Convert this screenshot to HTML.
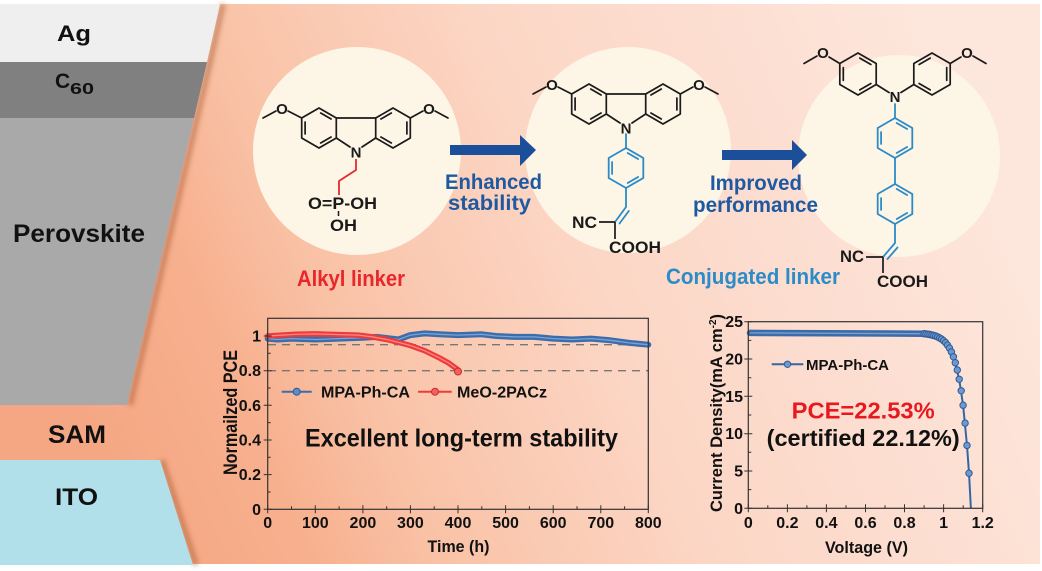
<!DOCTYPE html>
<html><head><meta charset="utf-8"><style>
html,body{margin:0;padding:0;background:#fff;}
svg{display:block;}
text{font-family:"Liberation Sans",Arial,sans-serif;font-weight:bold;}
</style></head><body>
<svg width="1042" height="571" viewBox="0 0 1042 571" xmlns="http://www.w3.org/2000/svg">
<defs>
<linearGradient id="bg" gradientUnits="userSpaceOnUse" x1="150" y1="560" x2="1000" y2="200">
<stop offset="0" stop-color="#f5a783"/>
<stop offset="0.16" stop-color="#f7b08e"/>
<stop offset="0.29" stop-color="#f9c2a6"/>
<stop offset="0.56" stop-color="#fcd6c5"/>
<stop offset="1" stop-color="#fde6dc"/>
</linearGradient>
<filter id="sh" x="-20%" y="-20%" width="140%" height="140%"><feGaussianBlur stdDeviation="2.5"/></filter>
</defs>
<rect width="1042" height="571" fill="#fff"/>
<rect x="0" y="4" width="1040" height="560" fill="url(#bg)"/>

<!-- layer stack -->
<path d="M223,4 L210,62 L197,118 L130,405" stroke="#a0522d" stroke-opacity="0.45" stroke-width="6" fill="none" filter="url(#sh)"/>
<path d="M162,460 L196,565" stroke="#a0522d" stroke-opacity="0.45" stroke-width="6" fill="none" filter="url(#sh)"/>
<polygon points="0,4 220,4 207,62 0,62" fill="#efefef"/>
<polygon points="0,62 207,62 194,118 0,118" fill="#808080"/>
<polygon points="0,118 194,118 127,405 0,405" fill="#aaa9a9"/>
<polygon points="0,460 160,460 193,565 0,565" fill="#b1e0eb"/>
<g fill="#111">
<text x="57" y="41" font-size="22" textLength="34" lengthAdjust="spacingAndGlyphs">Ag</text>
<text x="55" y="88" font-size="21">C</text>
<text x="70" y="94" font-size="16" textLength="24" lengthAdjust="spacingAndGlyphs">60</text>
<text x="13" y="242" font-size="25" textLength="132" lengthAdjust="spacingAndGlyphs">Perovskite</text>
<text x="48" y="443" font-size="25" textLength="58" lengthAdjust="spacingAndGlyphs">SAM</text>
<text x="55" y="505" font-size="24" textLength="43" lengthAdjust="spacingAndGlyphs">ITO</text>
</g>

<!-- circles -->
<circle cx="357" cy="151" r="104" fill="#fdf5e6"/>
<circle cx="628" cy="150" r="103" fill="#fdf5e6"/>
<circle cx="899" cy="156" r="101" fill="#fdf5e6"/>

<!-- arrows -->
<g fill="#1c4f9a">
<rect x="450" y="145" width="72" height="10"/>
<polygon points="520,135 536,150 520,166"/>
<rect x="722" y="150" width="72" height="10"/>
<polygon points="792,140 807,155 792,170"/>
</g>
<g fill="#1f5aa0">
<text x="445" y="189" font-size="21" textLength="97" lengthAdjust="spacingAndGlyphs">Enhanced</text>
<text x="448" y="210" font-size="21" textLength="83" lengthAdjust="spacingAndGlyphs">stability</text>
<text x="710" y="190" font-size="21" textLength="92" lengthAdjust="spacingAndGlyphs">Improved</text>
<text x="693" y="212" font-size="21" textLength="125" lengthAdjust="spacingAndGlyphs">performance</text>
</g>
<text x="297" y="286" font-size="22" fill="#e8262b" textLength="108" lengthAdjust="spacingAndGlyphs">Alkyl linker</text>
<text x="666" y="284" font-size="22" fill="#2c8cc8" textLength="174" lengthAdjust="spacingAndGlyphs">Conjugated linker</text>

<!-- molecule 1 carbazole -->
<g fill="none" stroke="#1a1a1a" stroke-width="1.7" stroke-linejoin="round" stroke-linecap="round">
<path d="M319,108 L336.3,118 L336.3,138 L319,148 L301.7,138 L301.7,118 Z"/>
<path d="M393,108 L410.3,118 L410.3,138 L393,148 L375.7,138 L375.7,118 Z"/>
<path d="M320.7,113 L331.1,119 M331.1,137 L320.7,143 M305.1,134 L305.1,122"/>
<path d="M380.9,119 L391.3,113 M391.3,143 L380.9,137 M406.9,122 L406.9,134"/>
<path d="M336.3,118 L375.7,118 M336.3,138 L350,147 M362,147 L375.7,138"/>
<path d="M301.7,118 L288,111 M276,111 L263,118"/>
<path d="M410.3,118 L423,111 M435,111 L448,118"/>
</g>
<g fill="#1a1a1a" font-size="15" text-anchor="middle">
<text x="356" y="157.5">N</text>
<text x="282" y="114">O</text>
<text x="429" y="114">O</text>
</g>
<path d="M356,159 L356,170 L339,181 L339,195" fill="none" stroke="#e42b2b" stroke-width="1.8" stroke-linejoin="round"/>
<text x="308" y="209" font-size="17" fill="#1a1a1a" textLength="69" lengthAdjust="spacingAndGlyphs">O=P-OH</text>
<line x1="338.5" y1="211" x2="338.5" y2="216" stroke="#1a1a1a" stroke-width="1.5"/>
<text x="330" y="231" font-size="17" fill="#1a1a1a" textLength="27" lengthAdjust="spacingAndGlyphs">OH</text>

<!-- molecule 2 -->
<g transform="translate(270,-24)">
<g fill="none" stroke="#1a1a1a" stroke-width="1.7" stroke-linejoin="round" stroke-linecap="round">
<path d="M319,108 L336.3,118 L336.3,138 L319,148 L301.7,138 L301.7,118 Z"/>
<path d="M393,108 L410.3,118 L410.3,138 L393,148 L375.7,138 L375.7,118 Z"/>
<path d="M320.7,113 L331.1,119 M331.1,137 L320.7,143 M305.1,134 L305.1,122"/>
<path d="M380.9,119 L391.3,113 M391.3,143 L380.9,137 M406.9,122 L406.9,134"/>
<path d="M336.3,118 L375.7,118 M336.3,138 L350,147 M362,147 L375.7,138"/>
<path d="M301.7,118 L288,111 M276,111 L263,118"/>
<path d="M410.3,118 L423,111 M435,111 L448,118"/>
</g>
<g fill="#1a1a1a" font-size="15" text-anchor="middle">
<text x="356" y="157.5">N</text>
<text x="282" y="114">O</text>
<text x="429" y="114">O</text>
</g>
</g>
<g fill="none" stroke="#2a8bc8" stroke-width="1.8" stroke-linejoin="round" stroke-linecap="round">
<path d="M626,134 L626,148"/>
<path d="M626,148 L643.3,158 L643.3,178 L626,188 L608.7,178 L608.7,158 Z"/>
<path d="M612.1,174 L612.1,162 M627.7,153 L638.1,159 M638.1,177 L627.7,183"/>
<path d="M626,188 L626,207 L615,222 M628.8,211 L619.5,223.5"/>
</g>
<path d="M615,222 L599,222 M615,222 L615,239" fill="none" stroke="#1a1a1a" stroke-width="1.7"/>
<text x="572" y="228" font-size="17" fill="#1a1a1a" textLength="25" lengthAdjust="spacingAndGlyphs">NC</text>
<text x="609" y="253" font-size="17" fill="#1a1a1a" textLength="52" lengthAdjust="spacingAndGlyphs">COOH</text>

<!-- molecule 3 -->
<g fill="none" stroke="#1a1a1a" stroke-width="1.7" stroke-linejoin="round" stroke-linecap="round">
<path d="M858,53 L876.2,63.5 L876.2,84.5 L858,95 L839.8,84.5 L839.8,63.5 Z"/>
<path d="M859.8,58.1 L870.9,64.5 M870.9,83.5 L859.8,89.9 M843.3,80.4 L843.3,67.6"/>
<path d="M932,53 L950.2,63.5 L950.2,84.5 L932,95 L913.8,84.5 L913.8,63.5 Z"/>
<path d="M919.1,64.5 L930.2,58.1 M930.2,89.9 L919.1,83.5 M946.7,67.6 L946.7,80.4"/>
<path d="M876.2,84.5 L889,92.5 M913.8,84.5 L901,92.5"/>
<path d="M839.8,63.5 L829,57 M817,56 L804,63.5"/>
<path d="M950.2,63.5 L961,57 M973,56 L986,63.5"/>
</g>
<g fill="#1a1a1a" font-size="15" text-anchor="middle">
<text x="895" y="102">N</text>
<text x="823" y="58">O</text>
<text x="967" y="58">O</text>
</g>
<g fill="none" stroke="#2a8bc8" stroke-width="1.8" stroke-linejoin="round" stroke-linecap="round">
<path d="M895,104 L895,118"/>
<path d="M895,118 L912.3,128 L912.3,148 L895,158 L877.7,148 L877.7,128 Z"/>
<path d="M881.1,144 L881.1,132 M896.7,123 L907.1,129 M907.1,147 L896.7,153"/>
<path d="M895,158 L895,184"/>
<path d="M895,184 L912.3,194 L912.3,214 L895,224 L877.7,214 L877.7,194 Z"/>
<path d="M881.1,210 L881.1,198 M896.7,189 L907.1,195 M907.1,213 L896.7,219"/>
<path d="M895,224 L895,243 L883,257 M897.5,247.5 L887.5,259"/>
</g>
<path d="M883,257 L866,257 M883,257 L883,273" fill="none" stroke="#1a1a1a" stroke-width="1.7"/>
<text x="840" y="262" font-size="17" fill="#1a1a1a" textLength="24" lengthAdjust="spacingAndGlyphs">NC</text>
<text x="877" y="287" font-size="17" fill="#1a1a1a" textLength="51" lengthAdjust="spacingAndGlyphs">COOH</text>

<!-- chart 1 -->
<g stroke="#777" stroke-width="1.4" stroke-dasharray="8,6">
<line x1="268" y1="344.7" x2="648" y2="344.7"/>
<line x1="268" y1="370.7" x2="648" y2="370.7"/>
</g>
<polyline fill="none" stroke="#3b6dab" stroke-width="6" stroke-linejoin="round" stroke-linecap="round" points="267.7,338.6 277.2,339.5 291.5,338.6 315.3,339.5 339.1,338.6 362.9,337.7 377.1,336.9 391.4,338.6 398.5,339.5 410.4,335.1 424.7,333.4 439.0,334.3 458.0,335.1 481.8,334.3 496.1,336.0 515.1,336.9 534.1,336.9 553.2,338.6 572.2,339.5 591.2,338.6 610.3,340.3 629.3,342.9 648.3,344.7"/>
<polyline fill="none" stroke="#7aa3d6" stroke-width="1.3" points="267.7,338.6 277.2,339.5 291.5,338.6 315.3,339.5 339.1,338.6 362.9,337.7 377.1,336.9 391.4,338.6 398.5,339.5 410.4,335.1 424.7,333.4 439.0,334.3 458.0,335.1 481.8,334.3 496.1,336.0 515.1,336.9 534.1,336.9 553.2,338.6 572.2,339.5 591.2,338.6 610.3,340.3 629.3,342.9 648.3,344.7"/>
<polyline fill="none" stroke="#ec3b3b" stroke-width="5.5" stroke-linejoin="round" stroke-linecap="round" points="267.7,336.0 282.0,335.1 296.2,334.3 315.3,333.9 339.1,334.6 358.1,335.1 372.4,336.9 386.7,339.5 400.9,343.0 410.4,345.5 424.7,350.7 439.0,357.7 448.5,362.9 458.0,369.8"/>
<polyline fill="none" stroke="#f88" stroke-width="1.2" points="267.7,336.0 282.0,335.1 296.2,334.3 315.3,333.9 339.1,334.6 358.1,335.1 372.4,336.9 386.7,339.5 400.9,343.0 410.4,345.5 424.7,350.7 439.0,357.7 448.5,362.9 458.0,369.8"/>
<circle cx="458" cy="371.5" r="3.5" fill="#f06262" stroke="#d02a2a" stroke-width="1"/>
<rect x="267.7" y="318.3" width="380.6" height="191" fill="none" stroke="#333" stroke-width="1.2"/>
<g stroke="#333" stroke-width="1">
<path d="M263.7,509.3h8M263.7,474.6h8M263.7,440h8M263.7,405.3h8M263.7,370.7h8M263.7,336h8M267.7,492h3M267.7,457.3h3M267.7,422.6h3M267.7,388h3M267.7,353.3h3"/>
<path d="M267.7,513.3v-8M315.3,513.3v-8M362.9,513.3v-8M410.4,513.3v-8M458,513.3v-8M505.6,513.3v-8M553.2,513.3v-8M600.8,513.3v-8M648.3,513.3v-8M291.5,509.3v-3M339.1,509.3v-3M386.7,509.3v-3M434.2,509.3v-3M481.8,509.3v-3M529.4,509.3v-3M577,509.3v-3M624.6,509.3v-3"/>
</g>
<g fill="#111" font-size="16" text-anchor="end">
<text x="261" y="515">0</text>
<text x="261" y="480">0.2</text>
<text x="261" y="445.5">0.4</text>
<text x="261" y="411">0.6</text>
<text x="261" y="376">0.8</text>
<text x="261" y="341.5">1</text>
</g>
<g fill="#111" font-size="16" text-anchor="middle">
<text x="267.7" y="528">0</text>
<text x="315.3" y="528">100</text>
<text x="362.9" y="528">200</text>
<text x="410.4" y="528">300</text>
<text x="458" y="528">400</text>
<text x="505.6" y="528">500</text>
<text x="553.2" y="528">600</text>
<text x="600.8" y="528">700</text>
<text x="648.3" y="528">800</text>
</g>
<text x="458.5" y="552" font-size="17" fill="#111" text-anchor="middle" textLength="62" lengthAdjust="spacingAndGlyphs">Time (h)</text>
<text transform="translate(237,412.5) rotate(-90)" font-size="19" fill="#111" text-anchor="middle" textLength="125" lengthAdjust="spacingAndGlyphs">Normailzed PCE</text>
<line x1="281.7" y1="391.7" x2="311.7" y2="391.7" stroke="#3b6dab" stroke-width="2"/>
<circle cx="296.7" cy="391.7" r="3.5" fill="#5d8ccc" stroke="#2a5a96" stroke-width="1"/>
<text x="321" y="397.5" font-size="16" fill="#111" textLength="89" lengthAdjust="spacingAndGlyphs">MPA-Ph-CA</text>
<line x1="418" y1="391.7" x2="451.7" y2="391.7" stroke="#ec3b3b" stroke-width="2"/>
<circle cx="435" cy="391.7" r="3.5" fill="#f06262" stroke="#d02a2a" stroke-width="1"/>
<text x="457" y="397.5" font-size="16" fill="#111" textLength="90" lengthAdjust="spacingAndGlyphs">MeO-2PACz</text>
<text x="305" y="446.5" font-size="25" fill="#111" textLength="313" lengthAdjust="spacingAndGlyphs">Excellent long-term stability</text>

<!-- chart 2 -->
<polyline fill="none" stroke="#3b6ba8" stroke-width="6.5" stroke-linecap="round" points="750,332.9 924.1,333.7 933.8,335.5"/>
<polyline fill="none" stroke="#7aa0d0" stroke-width="1.3" points="750,332.9 924.1,333.7 933.8,335.5"/>
<polyline fill="none" stroke="#3466a4" stroke-width="2" points="933.8,335.5 943.6,340.7 953.4,356.8 959.2,379.3 963.1,405.2 967,445.4 969,473.2 970.9,508.3"/>
<g fill="#6f98cc" stroke="#2d5c99" stroke-width="1">
<circle cx="924.1" cy="333.7" r="3.2"/><circle cx="926" cy="333.9" r="3.2"/><circle cx="928" cy="334.2" r="3.2"/><circle cx="929.9" cy="334.5" r="3.2"/><circle cx="931.9" cy="335" r="3.2"/><circle cx="933.8" cy="335.5" r="3.2"/><circle cx="935.8" cy="336.1" r="3.2"/><circle cx="937.7" cy="336.9" r="3.2"/><circle cx="939.7" cy="338" r="3.2"/><circle cx="941.6" cy="339.1" r="3.2"/><circle cx="943.6" cy="340.7" r="3.2"/><circle cx="945.6" cy="342.6" r="3.2"/><circle cx="947.5" cy="345.1" r="3.2"/><circle cx="949.5" cy="348.1" r="3.2"/><circle cx="951.4" cy="351.9" r="3.2"/><circle cx="953.4" cy="356.8" r="3.2"/><circle cx="955.3" cy="362.7" r="3.2"/><circle cx="957.3" cy="370" r="3.2"/><circle cx="959.2" cy="379.3" r="3.2"/><circle cx="961.2" cy="390.8" r="3.2"/><circle cx="963.1" cy="405.2" r="3.2"/><circle cx="965.1" cy="423.1" r="3.2"/><circle cx="967" cy="445.4" r="3.2"/><circle cx="969" cy="473.2" r="3.2"/>
</g>
<rect x="748.3" y="321.7" width="234.4" height="186.6" fill="none" stroke="#333" stroke-width="1.2"/>
<g stroke="#333" stroke-width="1">
<path d="M744.3,508.3h8M744.3,471h8M744.3,433.7h8M744.3,396.3h8M744.3,359h8M744.3,321.7h8M748.3,489.6h3M748.3,452.3h3M748.3,415h3M748.3,377.7h3M748.3,340.4h3"/>
<path d="M748.3,512.3v-8M787.4,512.3v-8M826.4,512.3v-8M865.5,512.3v-8M904.5,512.3v-8M943.6,512.3v-8M982.7,512.3v-8M767.8,508.3v-3M806.9,508.3v-3M846,508.3v-3M885,508.3v-3M924.1,508.3v-3M963.2,508.3v-3"/>
</g>
<g fill="#111" font-size="16" text-anchor="end">
<text x="743" y="327.2">25</text>
<text x="743" y="364.5">20</text>
<text x="743" y="401.8">15</text>
<text x="743" y="439.2">10</text>
<text x="743" y="476.5">5</text>
<text x="743" y="513.8">0</text>
</g>
<g fill="#111" font-size="16" text-anchor="middle">
<text x="748.3" y="528">0</text>
<text x="787.4" y="528">0.2</text>
<text x="826.4" y="528">0.4</text>
<text x="865.5" y="528">0.6</text>
<text x="904.5" y="528">0.8</text>
<text x="943.6" y="528">1</text>
<text x="982.7" y="528">1.2</text>
</g>
<text x="866.5" y="553" font-size="17" fill="#111" text-anchor="middle" textLength="83" lengthAdjust="spacingAndGlyphs">Voltage (V)</text>
<text transform="translate(722,413) rotate(-90)" font-size="16.5" fill="#111" text-anchor="middle">Current Density(mA cm<tspan font-size="10" dy="-6">-2</tspan><tspan dy="6">)</tspan></text>
<line x1="771.7" y1="364.3" x2="803.3" y2="364.3" stroke="#3466a4" stroke-width="2"/>
<circle cx="787.5" cy="364.3" r="3.2" fill="#6f98cc" stroke="#2d5c99" stroke-width="1"/>
<text x="806" y="370" font-size="15" fill="#111" textLength="83" lengthAdjust="spacingAndGlyphs">MPA-Ph-CA</text>
<text x="791.7" y="418.3" font-size="23" fill="#e8181f" textLength="143" lengthAdjust="spacingAndGlyphs">PCE=22.53%</text>
<text x="766.7" y="446" font-size="23" fill="#111" textLength="193" lengthAdjust="spacingAndGlyphs">(certified 22.12%)</text>
</svg>
</body></html>
